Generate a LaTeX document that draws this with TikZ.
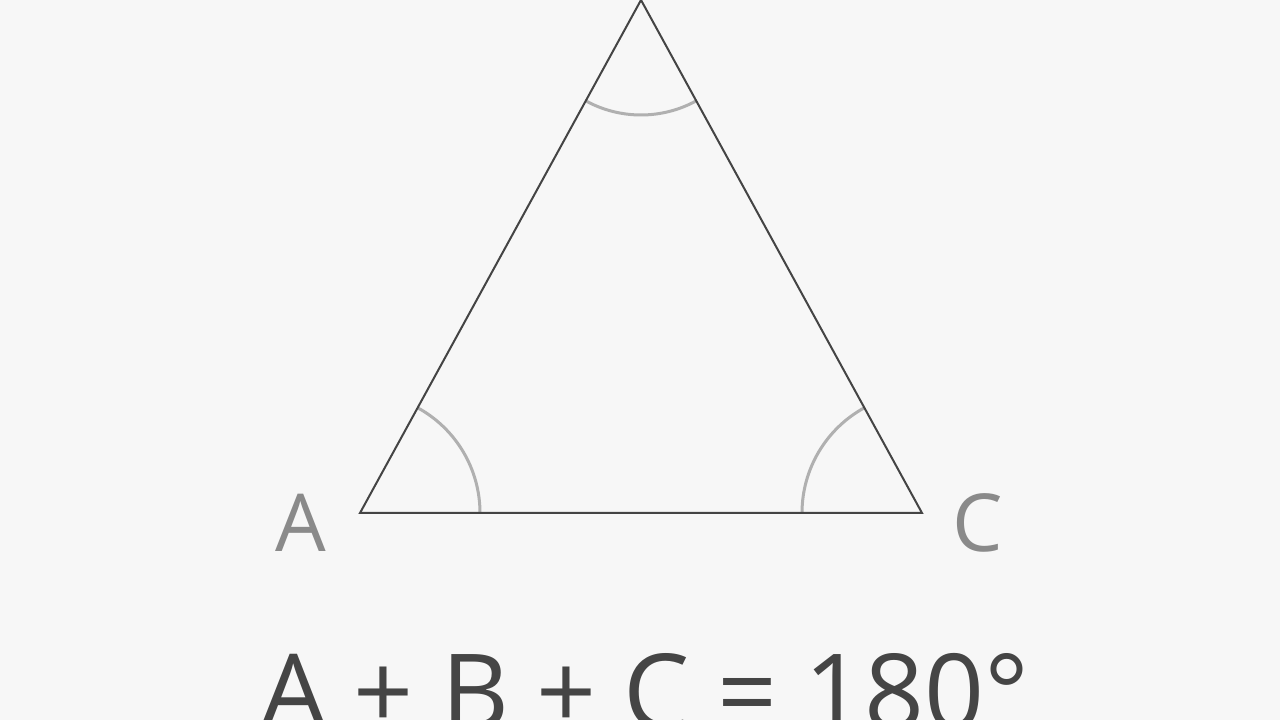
\documentclass[tikz,border=0pt]{standalone}
\usepackage{fontspec}
\setmainfont{Open Sans}
\usetikzlibrary{angles}
\definecolor{bgcol}{HTML}{F7F7F7}
\definecolor{edgecol}{HTML}{444444}
\definecolor{arccol}{HTML}{B0B0B0}
\definecolor{labelcol}{HTML}{8A8A8A}
\definecolor{eqcol}{HTML}{454545}
\begin{document}
\begin{tikzpicture}[
      x=1pt, y=1pt,
      side/.style={draw=edgecol, line width=2pt, line join=miter},
      anglearc/.style={draw=arccol, line width=3pt, angle radius=120pt},
      vlabel/.style={text=labelcol, font=\fontsize{80}{96}\selectfont, inner sep=0pt}
    ]
    \fill[bgcol] (0,0) rectangle (1280,720);
    \useasboundingbox (0,0) rectangle (1280,720);
    \coordinate (A) at (360,207);
    \coordinate (B) at (641,720);
    \coordinate (C) at (922,207);
    \pic[anglearc] {angle = C--A--B};
    \pic[anglearc] {angle = B--C--A};
    \pic[anglearc, angle radius=115pt] {angle = A--B--C};
    \draw[side] (A) -- (B) -- (C) -- cycle;
    \node[vlabel] (la) at (301,197) {A};
    \node[vlabel] (lc) at (978,197) {C};
    \node[text=eqcol, font=\fontsize{105}{120}\selectfont, anchor=base] (eq) at (645,-10)
      {A + B + C = 180°};
\end{tikzpicture}
\end{document}
